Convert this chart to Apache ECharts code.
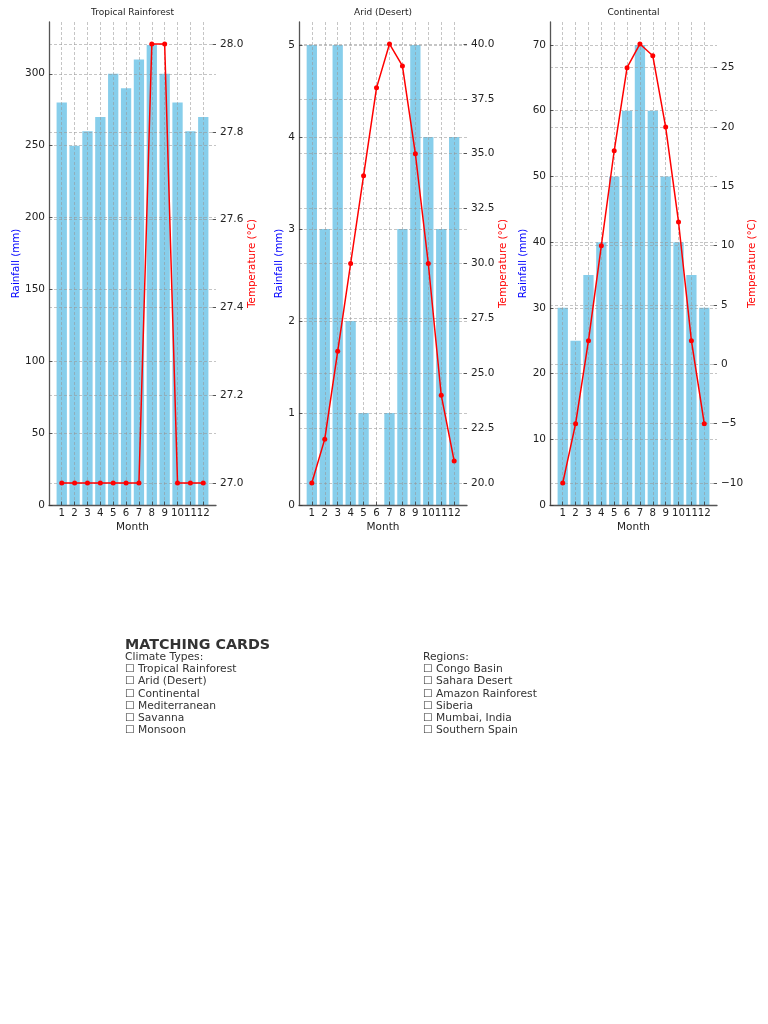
<!DOCTYPE html>
<html><head><meta charset="utf-8">
<script src="https://cdn.jsdelivr.net/npm/echarts@6/dist/echarts.min.js"></script>
<style>html,body{margin:0;padding:0;background:#fff}#c{width:768px;height:1024px}</style>
</head><body><div id="c"></div>
<script>
// ---------- data ----------
const months = [1,2,3,4,5,6,7,8,9,10,11,12];
const panelTitles = ['Tropical Rainforest', 'Arid (Desert)', 'Continental'];

const tropicalRain = [280,250,260,270,300,290,310,320,300,280,260,270];
const tropicalTemp = [27,27,27,27,27,27,27,28,28,27,27,27];
const aridRain = [5,3,5,2,1,0,1,3,5,4,3,4];
const aridTemp = [20,22,26,30,34,38,40,39,35,30,24,21];
const continentalRain = [30,25,35,40,50,60,70,60,50,40,35,30];
const continentalTemp = [-10,-5,2,10,18,25,27,26,20,12,2,-5];

const tropicalRainTicks = [0,50,100,150,200,250,300];
const tropicalTempTicks = [27.0,27.2,27.4,27.6,27.8,28.0];
const aridRainTicks = [0,1,2,3,4,5];
const aridTempTicks = [20.0,22.5,25.0,27.5,30.0,32.5,35.0,37.5,40.0];
const continentalRainTicks = [0,10,20,30,40,50,60,70];
const continentalTempTicks = [-10,-5,0,5,10,15,20,25];

const climateTypes = ['Tropical Rainforest','Arid (Desert)','Continental','Mediterranean','Savanna','Monsoon'];
const regions = ['Congo Basin','Sahara Desert','Amazon Rainforest','Siberia','Mumbai, India','Southern Spain'];

const rainSets = [tropicalRain, aridRain, continentalRain];
const tempSets = [tropicalTemp, aridTemp, continentalTemp];
const rainTickSets = [tropicalRainTicks, aridRainTicks, continentalRainTicks];
const tempTickSets = [tropicalTempTicks, aridTempTicks, continentalTempTicks];
const tempDecimals = [1, 1, 0];

// ---------- layout / style ----------
const FONT = 'DejaVu Sans';
const gridLeft = [49, 299, 550];
const gridWidth = [167, 168, 167];
const gridTop = 22, gridHeight = 483;
const leftNameGap = [28, 13, 22];
const rightNameGap = [31, 30, 28];
const gridLine = {color:'rgba(150,150,150,0.7)', width:0.8, type:[3,2]};
const spine = {color:'#555', width:1.3};
const tickFont = 10.5;

function fmt(v, d) {
  const s = Math.abs(v).toFixed(d);
  return (v < 0 ? '\u2212' : '') + s;
}

const grids = [], xAxes = [], yAxes = [], series = [], graphics = [];
for (let i = 0; i < 3; i++) {
  const rain = rainSets[i], temp = tempSets[i];
  const rMax = Math.max(...rain) * 1.05;
  const tMin = Math.min(...temp), tMax = Math.max(...temp), span = tMax - tMin;
  grids.push({left:gridLeft[i], top:gridTop, width:gridWidth[i], height:gridHeight, containLabel:false});
  xAxes.push({
    type:'value', gridIndex:i, min:0.01, max:12.99, z:3,
    axisLine:{show:true, onZero:false, lineStyle:spine},
    axisTick:{show:true, inside:true, length:3.5, customValues:months, lineStyle:{color:'#333', width:0.8}},
    axisLabel:{customValues:months, fontSize:10.2, color:'#222', margin:3, fontFamily:FONT,
               hideOverlap:false, showMinLabel:true, showMaxLabel:true},
    splitLine:{show:true, lineStyle:gridLine},
    name:'Month', nameLocation:'middle', nameGap:17,
    nameTextStyle:{fontSize:10.5, color:'#222', fontFamily:FONT}
  });
  const rt = rainTickSets[i], tt = tempTickSets[i], dec = tempDecimals[i];
  yAxes.push({
    type:'value', gridIndex:i, position:'left', min:0, max:rMax, z:3,
    axisLine:{show:true, onZero:false, lineStyle:spine},
    axisTick:{show:true, inside:true, length:3.5, customValues:rt, lineStyle:{color:'#333', width:0.8}},
    axisLabel:{customValues:rt, fontSize:tickFont, color:'#222', margin:4, fontFamily:FONT, formatter:v => fmt(v,0)},
    splitLine:{show:true, lineStyle:gridLine},
    name:'Rainfall (mm)', nameLocation:'middle', nameGap:leftNameGap[i], nameRotate:90,
    nameTextStyle:{fontSize:10.3, color:'#0000ff', fontFamily:FONT}
  });
  yAxes.push({
    type:'value', gridIndex:i, position:'right', min:tMin - 0.05*span, max:tMax + 0.05*span, z:3,
    axisLine:{show:false},
    axisTick:{show:true, inside:true, length:3.5, customValues:tt, lineStyle:{color:'#333', width:0.8}},
    axisLabel:{customValues:tt, fontSize:tickFont, color:'#222', margin:4, fontFamily:FONT, formatter:v => fmt(v,dec)},
    splitLine:{show:true, lineStyle:gridLine},
    name:'Temperature (°C)', nameLocation:'middle', nameGap:rightNameGap[i], nameRotate:90,
    nameTextStyle:{fontSize:10.3, color:'#ff0000', fontFamily:FONT}
  });
  series.push({
    type:'bar', xAxisIndex:i, yAxisIndex:2*i, z:2, barWidth:10.3,
    data:months.map((m,j) => [m, rain[j]]),
    itemStyle:{color:'#87CEEB'}
  });
  series.push({
    type:'line', xAxisIndex:i, yAxisIndex:2*i+1, z:10,
    data:months.map((m,j) => [m, temp[j]]),
    symbol:'circle', symbolSize:5, showSymbol:true,
    lineStyle:{color:'#ff0000', width:1.5}, itemStyle:{color:'#ff0000'}
  });
  graphics.push({type:'text', x:gridLeft[i] + gridWidth[i]/2, y:13,
    style:{text:panelTitles[i], fill:'#222', font:'9px "DejaVu Sans"', textAlign:'center', textVerticalAlign:'middle'}});
}

// matching cards
graphics.push({type:'text', x:125, y:645,
  style:{text:'MATCHING CARDS', fill:'#333', font:'bold 14.3px "DejaVu Sans"', textAlign:'left', textVerticalAlign:'middle'}});
graphics.push({type:'text', x:125, y:657,
  style:{text:'Climate Types:', fill:'#333', font:'10.7px "DejaVu Sans"', textAlign:'left', textVerticalAlign:'middle'}});
graphics.push({type:'text', x:423, y:657,
  style:{text:'Regions:', fill:'#333', font:'10.7px "DejaVu Sans"', textAlign:'left', textVerticalAlign:'middle'}});
climateTypes.forEach((t, k) => graphics.push({type:'text', x:125, y:669.3 + k*12.25,
  style:{text:'\u2610 ' + t, fill:'#333', font:'10.7px "DejaVu Sans"', textAlign:'left', textVerticalAlign:'middle'}}));
regions.forEach((t, k) => graphics.push({type:'text', x:423, y:669.3 + k*12.25,
  style:{text:'\u2610 ' + t, fill:'#333', font:'10.7px "DejaVu Sans"', textAlign:'left', textVerticalAlign:'middle'}}));

const chart = echarts.init(document.getElementById('c'), null, {renderer:'canvas'});
chart.setOption({
  animation:false,
  backgroundColor:'#ffffff',
  textStyle:{fontFamily:FONT},
  grid:grids, xAxis:xAxes, yAxis:yAxes, series:series, graphic:graphics
});
</script></body></html>
